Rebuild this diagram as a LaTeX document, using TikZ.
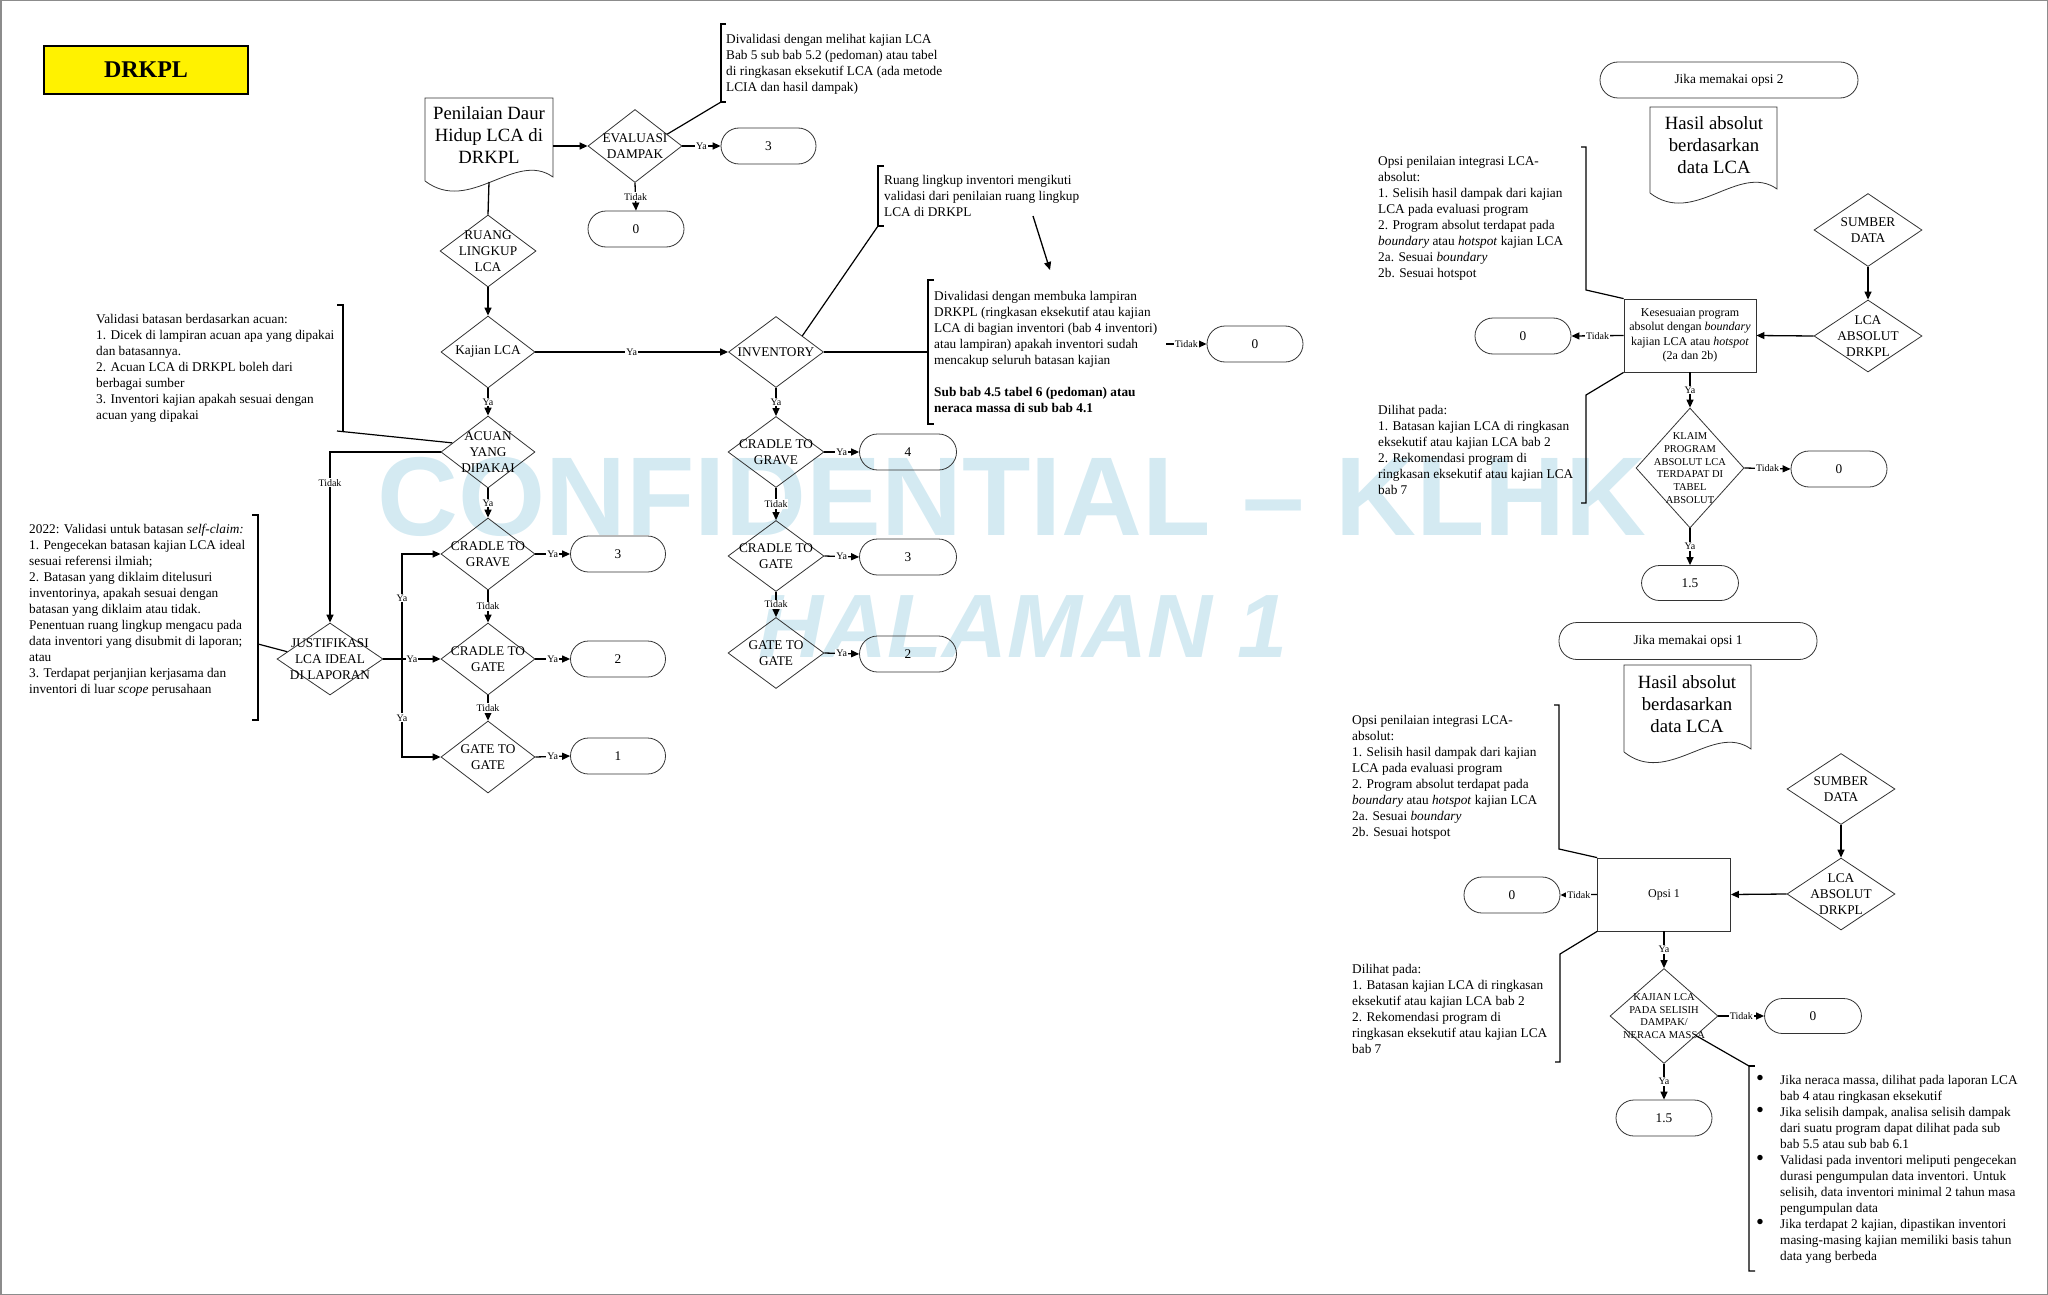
\documentclass[tikz,border=0pt]{standalone}
\usepackage{fontspec}
\usepackage{graphicx}
\setmainfont{Liberation Serif}
\newfontfamily\wmfont{Liberation Sans}
\usetikzlibrary{shapes.geometric,arrows.meta,calc}

\definecolor{wmblue}{RGB}{212,234,242}
\newcommand{\bitem}{\makebox[24pt][l]{\raisebox{-0.12em}{\scalebox{1.7}{\textbullet}}}}
\newcommand{\bcont}{\hspace*{24pt}}

\tikzset{
  shp/.style={draw=black!80, line width=0.8pt},
  dia/.style 2 args={shp, diamond, minimum width=#1, minimum height=#2, inner sep=0pt},
  dtx/.style={align=center, inner sep=0pt, font=\fontsize{13.3}{16}\selectfont},
  dsm/.style={align=center, inner sep=0pt, font=\fontsize{10.5}{12.8}\selectfont},
  term/.style={shp, rectangle, rounded corners=18pt, minimum width=96pt, minimum height=36pt, font=\fontsize{13.3}{16}\selectfont},
  docu/.style={minimum width=128pt, align=center, inner sep=0pt, font=\fontsize{18.7}{22}\selectfont},
  note/.style={anchor=west, align=left, inner sep=0pt, font=\fontsize{13.3}{16}\selectfont},
  lab/.style={fill=white, inner sep=1pt, font=\fontsize{10}{11}\selectfont},
  flow/.style={line width=1.3pt, -{Triangle[length=8pt,width=7pt]}},
  brk/.style={line width=1.2pt},
  wm/.style={text=wmblue, inner sep=0pt},
}

\begin{document}
\begin{tikzpicture}[x=1pt, y=-1pt]
  \useasboundingbox (0,0) rectangle (2048,1295);
  \draw[black!45, line width=1.5pt] (0.75,0.75) rectangle (2047.25,1294.25);

  % Watermark
  \node[wm, font=\wmfont\bfseries\fontsize{112}{112}\selectfont] (wm1) at (1012,497) {CONFIDENTIAL – KLHK};
  \node[wm, font=\wmfont\bfseries\itshape\fontsize{90}{90}\selectfont] (wm2) at (1023,627) {HALAMAN 1};

  % Title
  \node[draw, line width=1.5pt, fill=yellow, minimum width=204pt, minimum height=48pt, font=\bfseries\fontsize{24}{24}\selectfont] (drkpl) at (146,70) {DRKPL};

  % Start document and impact evaluation
  \node[docu, minimum height=75pt] (penilaian) at (489,135) {Penilaian Daur\\Hidup LCA di\\DRKPL};
  \draw[shp] (425,181) -- (425,98) -- (553,98) -- (553,177) .. controls (515,150) and (470,215) .. (425,181);
  \coordinate (penbot) at (489,182);
  \node[dia={94pt}{73pt}, label={[dtx]center:EVALUASI\\DAMPAK}] (evaluasi) at (635,146) {};
  \node[term, minimum width=95pt] (ev3) at (768.5,146) {3};
  \node[term] (ev0) at (636,229) {0};
  \node[note] (noteEval) at (726,64) {Divalidasi dengan melihat kajian LCA\\Bab 5 sub bab 5.2 (pedoman) atau tabel\\di ringkasan eksekutif LCA (ada metode\\LCIA dan hasil dampak)};
  \draw[brk] (726,24) -- (721,24) -- (721,102) -- (726,102);
  \draw[brk] (721,102) -- ($(evaluasi.east)!0.32!(evaluasi.north)$);

  \draw[flow] (penilaian.east |- evaluasi.west) -- (evaluasi.west);
  \draw[flow] (evaluasi.east) -- node[lab] {Ya} (ev3.west);
  \draw[flow] (evaluasi.south) -- node[lab] {Tidak} (ev0.north);

  % Left column
  \node[dia={96pt}{72pt}, label={[dtx]center:RUANG\\LINGKUP\\LCA}] (ruang) at (488,251) {};
  \node[dia={94pt}{72pt}, label={[dtx]center:Kajian LCA}] (kajian) at (488,352) {};
  \node[dia={94pt}{72pt}, label={[dtx]center:ACUAN\\YANG\\DIPAKAI}] (acuan) at (488,452) {};
  \node[dia={94pt}{72pt}, label={[dtx]center:CRADLE TO\\GRAVE}] (ctgrave1) at (488,554) {};
  \node[dia={94pt}{72pt}, label={[dtx]center:CRADLE TO\\GATE}] (ctgate1) at (488,659) {};
  \node[dia={94pt}{72pt}, label={[dtx]center:GATE TO\\GATE}] (gtgate1) at (488,757) {};
  \node[term, minimum width=95pt] (sk3a) at (618,554) {3};
  \node[term, minimum width=95pt] (sk2a) at (618,659) {2};
  \node[term, minimum width=95pt] (sk1a) at (618,756) {1};
  \node[dia={106pt}{72pt}, label={[dtx]center:JUSTIFIKASI\\LCA IDEAL\\DI LAPORAN}] (justifikasi) at (330,659) {};
  \coordinate (jsplit) at (402,659);

  \draw[line width=1.3pt] (penbot) -- (ruang.north);
  \draw[flow] (ruang.south) -- (kajian.north);
  \draw[flow] (kajian.south) -- node[lab] {Ya} (acuan.north);
  \draw[flow] (acuan.south) -- node[lab] {Ya} (ctgrave1.north);
  \draw[flow] (ctgrave1.south) -- node[lab] {Tidak} (ctgate1.north);
  \draw[flow] (ctgate1.south) -- node[lab] {Tidak} (gtgate1.north);
  \draw[flow] (ctgrave1.east) -- node[lab] {Ya} (sk3a.west);
  \draw[flow] (ctgate1.east) -- node[lab] {Ya} (sk2a.west);
  \draw[flow] (gtgate1.east) -- node[lab] {Ya} (sk1a.west);
  \draw[flow] (acuan.west) -| node[lab, pos=0.59] {Tidak} (justifikasi.north);
  \draw[flow] (justifikasi.east) -- node[lab] {Ya} (ctgate1.west);
  \draw[flow] (jsplit) |- node[lab, pos=0.29] {Ya} (ctgrave1.west);
  \draw[flow] (jsplit) |- node[lab, pos=0.3] {Ya} (gtgate1.west);

  % Notes on the left
  \node[note] (noteAcuan) at (96,368.5) {Validasi batasan berdasarkan acuan:\\1. Dicek di lampiran acuan apa yang dipakai\\dan batasannya.\\2. Acuan LCA di DRKPL boleh dari\\berbagai sumber\\3. Inventori kajian apakah sesuai dengan\\acuan yang dipakai};
  \draw[brk] (337,305) -- (343,305) -- (343,431);
  \draw[brk] (337,431) -- ($(acuan.west)!0.25!(acuan.north)$);
  \node[note] (noteClaim) at (29,610) {2022: Validasi untuk batasan \textit{self-claim:}\\1. Pengecekan batasan kajian LCA ideal\\sesuai referensi ilmiah;\\2. Batasan yang diklaim ditelusuri\\inventorinya, apakah sesuai dengan\\batasan yang diklaim atau tidak.\\Penentuan ruang lingkup mengacu pada\\data inventori yang disubmit di laporan;\\atau\\3. Terdapat perjanjian kerjasama dan\\inventori di luar \textit{scope} perusahaan};
  \draw[brk] (252,515) -- (258,515) -- (258,720) -- (252,720);
  \draw[brk] (258,644) -- ($(justifikasi.west)!0.2!(justifikasi.north)$);

  % Inventory column
  \node[dia={95pt}{71pt}, label={[dtx]center:INVENTORY}] (inventory) at (776,352) {};
  \node[dia={96pt}{71pt}, label={[dtx]center:CRADLE TO\\GRAVE}] (ctgrave2) at (776,452) {};
  \node[dia={96pt}{71pt}, label={[dtx]center:CRADLE TO\\GATE}] (ctgate2) at (776,556) {};
  \node[dia={96pt}{71pt}, label={[dtx]center:GATE TO\\GATE}] (gtgate2) at (776,653) {};
  \node[term, minimum width=97pt] (sk4b) at (908,452) {4};
  \node[term, minimum width=97pt] (sk3b) at (908,557) {3};
  \node[term, minimum width=97pt] (sk2b) at (908,654) {2};
  \node[term] (inv0) at (1255,344) {0};

  \draw[flow] (kajian.east) -- node[lab] {Ya} (inventory.west);
  \draw[flow] (inventory.south) -- node[lab] {Ya} (ctgrave2.north);
  \draw[flow] (ctgrave2.south) -- node[lab] {Tidak} (ctgate2.north);
  \draw[flow] (ctgate2.south) -- node[lab] {Tidak} (gtgate2.north);
  \draw[flow] (ctgrave2.east) -- node[lab] {Ya} (sk4b.west);
  \draw[flow] (ctgate2.east) -- node[lab] {Ya} (sk3b.west);
  \draw[flow] (gtgate2.east) -- node[lab] {Ya} (sk2b.west);
  \coordinate (tdk) at (1166,344);
  \draw[flow] (tdk) -- node[lab] {Tidak} (inv0.west);

  % Inventory notes
  \node[note] (noteScope) at (884,196) {Ruang lingkup inventori mengikuti\\validasi dari penilaian ruang lingkup\\LCA di DRKPL};
  \draw[brk] (884,166) -- (878,166) -- (878,226) -- (884,226);
  \draw[brk] (878,226) -- ($(inventory.east)!0.45!(inventory.north)$);
  \coordinate (arA) at (1033,216);
  \coordinate (arB) at (1050,270);
  \draw[flow] (arA) -- (arB);
  \node[note] (noteInv) at (934,352) {Divalidasi dengan membuka lampiran\\DRKPL (ringkasan eksekutif atau kajian\\LCA di bagian inventori (bab 4 inventori)\\atau lampiran) apakah inventori sudah\\mencakup seluruh batasan kajian\\[16pt]\textbf{Sub bab 4.5 tabel 6 (pedoman) atau}\\\textbf{neraca massa di sub bab 4.1}};
  \coordinate (cInv) at (928,352);
  \draw[brk] (934,280) -- (928,280) -- (928,424) -- (934,424);
  \draw[line width=1.3pt] (inventory.east) -- (cInv);

  % Option 2
  \node[term, minimum width=258pt] (opsi2) at (1729,80) {Jika memakai opsi 2};
  \node[docu, minimum height=76pt, minimum width=127pt] (hasil2) at (1714,145) {Hasil absolut\\berdasarkan\\data LCA};
  \draw[shp] (1650,193) -- (1650,107) -- (1777,107) -- (1777,189) .. controls (1739,162) and (1694,227) .. (1650,193);
  \node[dia={108pt}{73pt}, label={[dtx]center:SUMBER\\DATA}] (sumber2) at (1868,230) {};
  \node[dia={108pt}{72pt}, label={[dtx]center:LCA\\ABSOLUT\\DRKPL}] (absolut2) at (1868,336) {};
  \node[shp, minimum width=132pt, minimum height=73pt, align=center, font=\fontsize{12}{14.5}\selectfont] (kesesuaian) at (1690,335.5) {Kesesuaian program\\absolut dengan \textit{boundary}\\kajian LCA atau \textit{hotspot}\\(2a dan 2b)};
  \node[term] (k0) at (1523,336) {0};
  \node[dia={108pt}{120pt}, label={[dsm]center:KLAIM\\PROGRAM\\ABSOLUT LCA\\TERDAPAT DI\\TABEL\\ABSOLUT}] (klaim) at (1690,468) {};
  \node[term] (klaim0) at (1839,469) {0};
  \node[term, minimum width=97pt, minimum height=35pt] (klaim15) at (1690,583) {1.5};

  \draw[flow] (sumber2.south) -- (absolut2.north);
  \draw[flow] (absolut2.west) -- (kesesuaian.east);
  \draw[flow] (kesesuaian.west) -- node[lab] {Tidak} (k0.east);
  \draw[flow] (kesesuaian.south) -- node[lab] {Ya} (klaim.north);
  \draw[flow] (klaim.east) -- node[lab] {Tidak} (klaim0.west);
  \draw[flow] (klaim.south) -- node[lab] {Ya} (klaim15.north);

  \node[note] (noteOpsi2) at (1378,218.5) {Opsi penilaian integrasi LCA-\\absolut:\\1. Selisih hasil dampak dari kajian\\LCA pada evaluasi program\\2. Program absolut terdapat pada\\\textit{boundary} atau \textit{hotspot} kajian LCA\\2a. Sesuai \textit{boundary}\\2b. Sesuai hotspot};
  \draw[brk] (1581,147) -- (1586,147) -- (1586,290) -- (kesesuaian.north west);
  \node[note] (noteLihat2) at (1378,450) {Dilihat pada:\\1. Batasan kajian LCA di ringkasan\\eksekutif atau kajian LCA bab 2\\2. Rekomendasi program di\\ringkasan eksekutif atau kajian LCA\\bab 7};
  \draw[brk] (kesesuaian.south west) -- (1586,395) -- (1586,503) -- (1581,503);

  % Option 1
  \node[term, minimum width=258pt, minimum height=37pt] (opsi1) at (1688,641) {Jika memakai opsi 1};
  \node[docu, minimum height=78pt, minimum width=127pt] (hasil1) at (1687,704) {Hasil absolut\\berdasarkan\\data LCA};
  \draw[shp] (1624,752) -- (1624,665) -- (1751,665) -- (1751,749) .. controls (1713,722) and (1668,787) .. (1624,752);
  \node[dia={108pt}{71pt}, label={[dtx]center:SUMBER\\DATA}] (sumber1) at (1841,789) {};
  \node[dia={108pt}{72pt}, label={[dtx]center:LCA\\ABSOLUT\\DRKPL}] (absolut1) at (1841,894) {};
  \node[shp, minimum width=133pt, minimum height=73pt, font=\fontsize{12}{14.5}\selectfont] (opsibox) at (1664,894.5) {Opsi 1};
  \node[term] (o0) at (1512,895) {0};
  \node[dia={108pt}{95pt}, label={[dsm]center:KAJIAN LCA\\PADA SELISIH\\DAMPAK/\\NERACA MASSA}] (kajsel) at (1664,1016) {};
  \node[term, minimum width=97pt, minimum height=35pt] (kajsel0) at (1813,1016) {0};
  \node[term] (kajsel15) at (1664,1118) {1.5};

  \draw[flow] (sumber1.south) -- (absolut1.north);
  \draw[flow] (absolut1.west) -- (opsibox.east);
  \draw[flow] (opsibox.west) -- node[lab] {Tidak} (o0.east);
  \draw[flow] (opsibox.south) -- node[lab] {Ya} (kajsel.north);
  \draw[flow] (kajsel.east) -- node[lab] {Tidak} (kajsel0.west);
  \draw[flow] (kajsel.south) -- node[lab] {Ya} (kajsel15.north);

  \node[note] (noteOpsi1) at (1352,777.5) {Opsi penilaian integrasi LCA-\\absolut:\\1. Selisih hasil dampak dari kajian\\LCA pada evaluasi program\\2. Program absolut terdapat pada\\\textit{boundary} atau \textit{hotspot} kajian LCA\\2a. Sesuai \textit{boundary}\\2b. Sesuai hotspot};
  \draw[brk] (1554,705) -- (1559,705) -- (1559,849) -- (opsibox.north west);
  \node[note] (noteLihat1) at (1352,1008.5) {Dilihat pada:\\1. Batasan kajian LCA di ringkasan\\eksekutif atau kajian LCA bab 2\\2. Rekomendasi program di\\ringkasan eksekutif atau kajian LCA\\bab 7};
  \draw[brk] (opsibox.south west) -- (1560,954) -- (1560,1062) -- (1555,1062);
  \node[note] (noteBullet) at (1756,1169) {\bitem Jika neraca massa, dilihat pada laporan LCA\\\bcont bab 4 atau ringkasan eksekutif\\\bitem Jika selisih dampak, analisa selisih dampak\\\bcont dari suatu program dapat dilihat pada sub\\\bcont bab 5.5 atau sub bab 6.1\\\bitem Validasi pada inventori meliputi pengecekan\\\bcont durasi pengumpulan data inventori. Untuk\\\bcont selisih, data inventori minimal 2 tahun masa\\\bcont pengumpulan data\\\bitem Jika terdapat 2 kajian, dipastikan inventori\\\bcont masing-masing kajian memiliki basis tahun\\\bcont data yang berbeda};
  \draw[brk] ($(kajsel.east)!0.41!(kajsel.south)$) -- (1749,1066) -- (1749,1271) -- (1755,1271);
  \draw[brk] (1749,1066) -- (1755,1066);
\end{tikzpicture}
\end{document}
